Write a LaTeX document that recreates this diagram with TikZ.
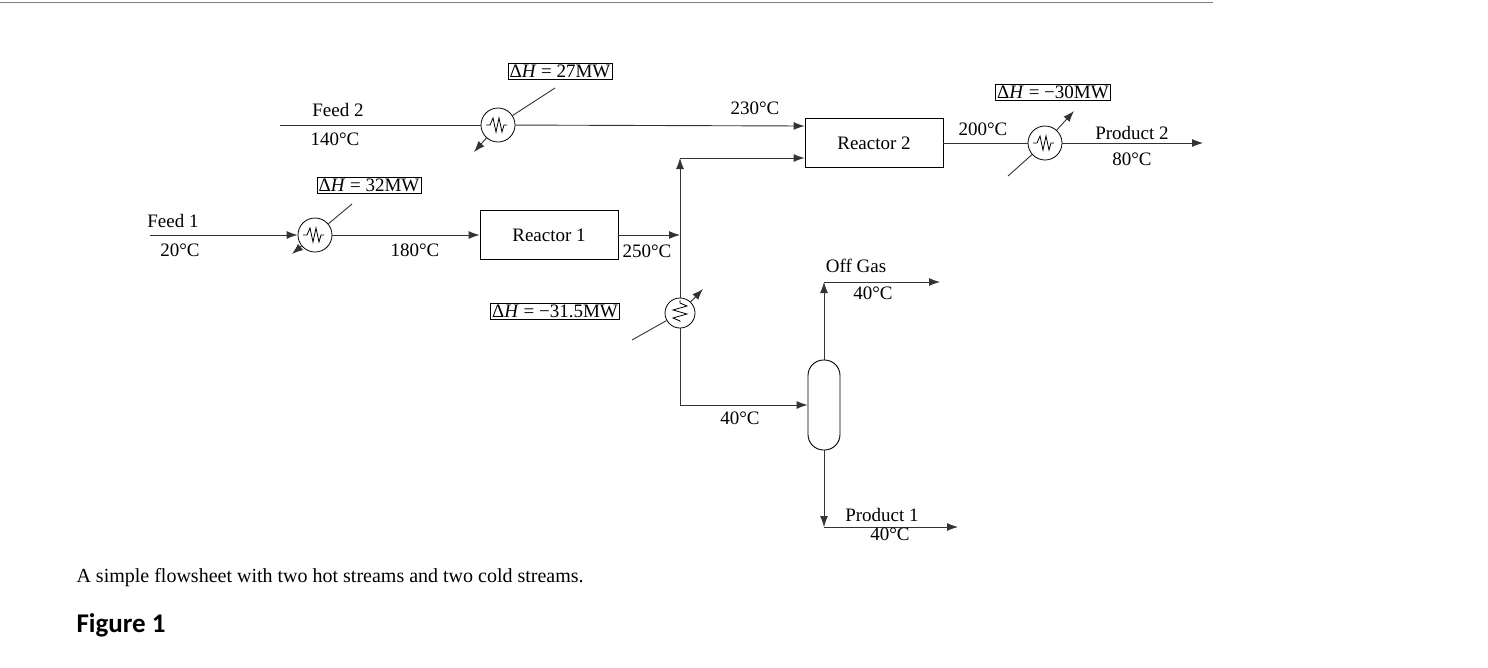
\documentclass[tikz,border=0pt]{standalone}
\usepackage{fontspec}
\setmainfont{Liberation Serif}
\newfontfamily\capfont{Carlito}
\usetikzlibrary{arrows.meta,calc}
\begin{document}
\begin{tikzpicture}[x=1pt,y=-1pt,
  every node/.style={font=\fontsize{19}{21}\selectfont},
  line/.style={line width=0.9pt,draw=black!80},
  arr/.style={line, -{Latex[length=11pt,width=8pt]}},
  box/.style={draw,line width=0.9pt,minimum width=138pt,minimum height=49pt},
  dh/.style={draw,line width=0.8pt,inner sep=1.5pt},
  hx/.style={circle,draw,line width=0.8pt,minimum size=34pt,inner sep=0pt},
  lbl/.style={inner sep=1pt}]
\useasboundingbox (0,0) rectangle (1488,667);
\draw[black!50,line width=0.8pt] (0,2) -- (1213,2);
% zigzag inside exchangers
\newcommand{\zzh}[1]{\draw[line width=0.8pt] ($(#1)+(-12,0)$) -- ++(4,0) -- ++(3,-7) -- ++(3,14) -- ++(3,-14) -- ++(3,14) -- ++(2,-7) -- ++(3,0);}
\newcommand{\zzv}[1]{\draw[line width=0.8pt] ($(#1)+(0,-13)$) -- ++(0,3) -- ++(7,3) -- ++(-14,4) -- ++(14,4) -- ++(-14,4) -- ++(7,3) -- ++(0,1);}
% units
\node[box] (r1) at (549,235) {Reactor 1};
\node[box] (r2) at (874,143) {Reactor 2};
\node[hx] (e1) at (315,235) {};
\node[hx] (e2) at (498,125) {};
\node[hx,minimum size=30pt] (e3) at (680,313) {};
\node[hx] (e4) at (1045,143) {};
\node[draw,line width=0.9pt,rounded corners=15.5pt,minimum width=32pt,minimum height=90pt] (col) at (824,405) {};
\zzh{e1} \zzh{e2} \zzh{e4} \zzv{e3}
% coordinates
\coordinate (f2) at (280,125);
\coordinate (f1) at (150,235);
\coordinate (j) at (680,235);
\coordinate (c1) at (680,158);
\coordinate (c2) at (680,405);
\coordinate (og) at (824,282);
\coordinate (ogE) at (940,282);
\coordinate (p1) at (824,527);
\coordinate (p1E) at (958,527);
\coordinate (p2) at (1203,143);
% streams
\draw[line] (f2) -- (e2);
\draw[arr] (e2) -- (r2.west |- 0,126);
\draw[arr] (f1) -- (e1);
\draw[arr] (e1) -- (r1);
\draw[arr] (r1) -- (j);
\draw[line] (c2) -- (e3);
\draw[arr] (e3) -- (c1);
\draw[arr] (c1) -- (r2.west |- 0,158);
\draw[arr] (c2) -- (col.west |- c2);
\draw[arr] (col.north) -- (og);
\draw[arr] (og) -- (ogE);
\draw[arr] (col.south) -- (p1);
\draw[arr] (p1) -- (p1E);
\draw[line] (r2) -- (e4);
\draw[arr] (e4) -- (p2);
% utility lines
\coordinate (u1a) at (352,204); \coordinate (u1b) at (292,254);
\draw[line] (u1a) -- (e1);
\draw[arr] (e1) -- (u1b);
\coordinate (u2a) at (555,88); \coordinate (u2b) at (474,152);
\draw[line] (u2a) -- (e2);
\draw[arr] (e2) -- (u2b);
\coordinate (u3a) at (632,340); \coordinate (u3b) at (703,289);
\draw[line] (u3a) -- (e3);
\draw[arr] (e3) -- (u3b);
\coordinate (u4a) at (1008,176); \coordinate (u4b) at (1074,111);
\draw[line] (u4a) -- (e4);
\draw[arr] (e4) -- (u4b);
% duties
\node[dh] (d1) at (369,185) {Δ\textit{H} = 32MW};
\node[dh] (d2) at (560,71) {Δ\textit{H} = 27MW};
\node[dh] (d3) at (555,311) {Δ\textit{H} = −31.5MW};
\node[dh] (d4) at (1053,92) {Δ\textit{H} = −30MW};
% labels
\node[lbl] (t1) at (338,110) {Feed 2};
\node[lbl] (t2) at (335,139) {140\textdegree C};
\node[lbl] (t3) at (173,221) {Feed 1};
\node[lbl] (t4) at (180,250) {20\textdegree C};
\node[lbl] (t5) at (415,250) {180\textdegree C};
\node[lbl] (t6) at (647,251) {250\textdegree C};
\node[lbl] (t7) at (755,108) {230\textdegree C};
\node[lbl] (t8) at (983,129) {200\textdegree C};
\node[lbl] (t9) at (1132,133) {Product 2};
\node[lbl] (t10) at (1132,159) {80\textdegree C};
\node[lbl] (t11) at (856,266) {Off Gas};
\node[lbl] (t12) at (873,293) {40\textdegree C};
\node[lbl] (t13) at (740,418) {40\textdegree C};
\node[lbl] (t14) at (882,515) {Product 1};
\node[lbl] (t15) at (890,534) {40\textdegree C};
\node[anchor=west,font=\fontsize{20}{22}\selectfont] (cap) at (73,578) {A simple flowsheet with two hot streams and two cold streams.};
\node[anchor=west,font=\capfont\bfseries\fontsize{27}{30}\selectfont] (fig) at (73,625) {Figure 1};
\end{tikzpicture}
\end{document}
